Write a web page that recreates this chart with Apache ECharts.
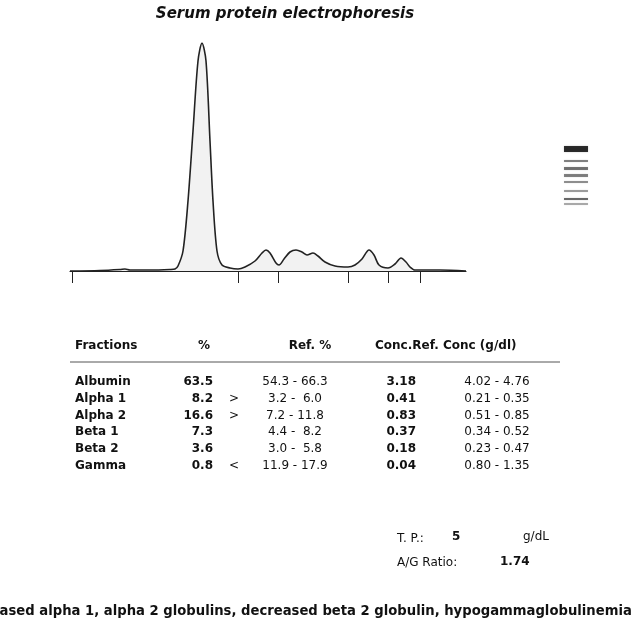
<!DOCTYPE html><html><head><meta charset="utf-8">
<script src="https://cdn.jsdelivr.net/npm/echarts@6/dist/echarts.min.js"></script>
<style>body{margin:0;background:#fff}#c{width:640px;height:640px}</style></head><body><div id="c"></div>
<script>
// scan position (arbitrary units) and densitometry height
const scanX=[70,100,120,125,130,150,170,175,178,183,188,193,198,202,206,210,213,217,222,230,238,245,255,262,266,270,276,279,284,290,296,302,307,313,318,325,335,348,355,362,369,374,379,388,395,401,406,410,415,425,440,466];
const scanY=[0,0.5,1.5,2,1,1,1.5,2,5,20,70,140,210,228,210,130,70,20,6,3,2,4,10,18,21,18,8,6,12,19,21,19,16,18,15,9,5,4,6,12,21,16,6,3,7,13,9,4,1,1,1,0];
const fractionTicks=[72,238,278,348,388,420];
const fractions=['Albumin','Alpha 1','Alpha 2','Beta 1','Beta 2','Gamma'];
const pct=['63.5','8.2','16.6','7.3','3.6','0.8'];
const flags=['','>','>','','','<'];
const refPct=['54.3 - 66.3','3.2 -  6.0','7.2 - 11.8','4.4 -  8.2','3.0 -  5.8','11.9 - 17.9'];
const conc=['3.18','0.41','0.83','0.37','0.18','0.04'];
const refConc=['4.02 - 4.76','0.21 - 0.35','0.51 - 0.85','0.34 - 0.52','0.23 - 0.47','0.80 - 1.35'];
const bands=[[146,6,0.8],[160,2,0.45],[167,3,0.5],[174,3,0.45],[181,2,0.4],[190,2,0.35],[198,2,0.55],[203,2,0.3]];

const F='"DejaVu Sans", Verdana, sans-serif';
const g=[];
const rowY=[382,399,416,432,449,466];
const t=(x,y,s,o={})=>g.push({type:'text',x,y,style:Object.assign({text:s,font:(o.b?'bold ':'')+(o.s||12)+'px '+F,fill:'#111',textAlign:o.a||'left',textVerticalAlign:'middle'},o.st||{})});
t(75,346,'Fractions',{b:1});t(204,346,'%',{b:1,a:'center'});t(310,346,'Ref. %',{b:1,a:'center'});t(375,346,'Conc.Ref. Conc (g/dl)',{b:1});
g.push({type:'line',shape:{x1:70,y1:362,x2:560,y2:362},style:{stroke:'#555',lineWidth:1}});
fractions.forEach((f,i)=>{const y=rowY[i];
 t(75,y,f,{b:1});t(213,y,pct[i],{b:1,a:'right'});t(234,y,flags[i],{a:'center'});
 t(295,y,refPct[i],{a:'center'});t(416,y,conc[i],{b:1,a:'right'});t(497,y,refConc[i],{a:'center'});});
t(397,539,'T. P.:');t(452,537,'5',{b:1});t(523,537,'g/dL');
t(397,563,'A/G Ratio:');t(500,562,'1.74',{b:1});
t(-38,612,'Increased alpha 1, alpha 2 globulins, decreased beta 2 globulin, hypogammaglobulinemia',{b:1,s:13.2});
bands.forEach(b=>g.push({type:'rect',shape:{x:564,y:b[0],width:24,height:b[1]},style:{fill:'rgba(0,0,0,'+b[2]+')',shadowBlur:2,shadowColor:'rgba(0,0,0,0.3)'}}));

const ch=echarts.init(document.getElementById('c'));
ch.setOption({
 title:{text:'Serum protein electrophoresis',left:280,top:2,textAlign:'center',textStyle:{fontFamily:F,fontSize:15,fontWeight:'bold',fontStyle:'italic',color:'#111'}},
 grid:{left:70,right:174,top:43,bottom:369},
 xAxis:{type:'value',min:70,max:466,splitLine:{show:false},axisLabel:{show:false},
  axisLine:{lineStyle:{color:'#222',width:1.2}},
  axisTick:{show:true,customValues:fractionTicks,length:12,inside:false,lineStyle:{color:'#222'}}},
 yAxis:{type:'value',min:0,max:228,show:false},
 series:[{type:'line',data:scanX.map((x,i)=>[x,scanY[i]]),smooth:0.3,symbol:'none',
  lineStyle:{color:'#222',width:1.6},areaStyle:{color:'rgba(0,0,0,0.07)'}}],
 graphic:g,animation:false
});
</script></body></html>
